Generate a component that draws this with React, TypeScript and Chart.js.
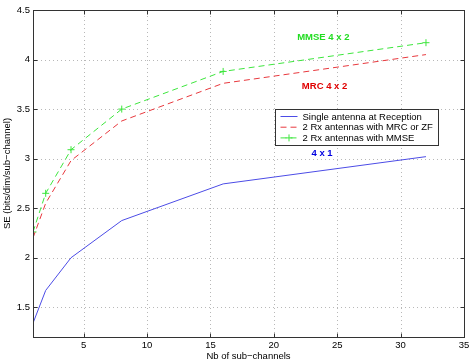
import React, { useEffect, useRef } from "react";
import { Chart, registerables } from "chart.js";

Chart.register(...registerables);

const xValues = [1, 2, 4, 8, 16, 32];
const singleAntenna = [1.34, 1.67, 2.0, 2.375, 2.745, 3.02];
const mrcValues = [2.2, 2.55, 2.98, 3.38, 3.76, 4.05];
const mmseValues = [2.26, 2.65, 3.09, 3.5, 3.88, 4.17];
const xTicks = [5, 10, 15, 20, 25, 30, 35];
const yTicks = [1.5, 2, 2.5, 3, 3.5, 4, 4.5];
const seriesLabels = [
  "Single antenna at Reception",
  "2 Rx antennas with MRC or ZF",
  "2 Rx antennas with MMSE",
];
const annotations = [
  { text: "MMSE 4 x 2", x: 23.9, y: 4.22, color: "#22dd22" },
  { text: "MRC 4 x 2", x: 24.0, y: 3.73, color: "#e00000" },
  { text: "4 x 1", x: 23.8, y: 3.05, color: "#0000e0" },
];

const FONT = "'Liberation Sans', Arial, Helvetica, sans-serif";
const FS = 9.5;
const colors = ["#4c4ce6", "#e8383d", "#3de63d"];

const gridPlugin = {
  id: "dottedGrid",
  beforeDatasetsDraw(chart: any) {
    const { ctx, chartArea: a, scales } = chart;
    ctx.save();
    ctx.strokeStyle = "#b8b8b8";
    ctx.lineWidth = 1;
    ctx.setLineDash([1, 3]);
    ctx.beginPath();
    xTicks.forEach((v) => {
      const px = Math.round(scales.x.getPixelForValue(v)) + 0.5;
      ctx.moveTo(px, a.bottom);
      ctx.lineTo(px, a.top);
    });
    yTicks.forEach((v) => {
      const py = Math.round(scales.y.getPixelForValue(v)) + 0.5;
      ctx.moveTo(a.left, py);
      ctx.lineTo(a.right, py);
    });
    ctx.stroke();
    ctx.restore();
  },
};

const boxPlugin = {
  id: "matlabBox",
  afterDraw(chart: any) {
    const { ctx, chartArea: a, scales } = chart;
    const xs = scales.x, ys = scales.y;
    ctx.save();
    ctx.strokeStyle = "#333";
    ctx.lineWidth = 1;
    ctx.setLineDash([]);
    const L = Math.round(a.left) + 0.5, R = Math.round(a.right) + 0.5;
    const T = Math.round(a.top) + 0.5, B = Math.round(a.bottom) + 0.5;
    ctx.strokeRect(L, T, R - L, B - T);
    const tl = 4;
    ctx.beginPath();
    xTicks.forEach((v) => {
      const px = Math.round(xs.getPixelForValue(v)) + 0.5;
      ctx.moveTo(px, B); ctx.lineTo(px, B - tl);
      ctx.moveTo(px, T); ctx.lineTo(px, T + tl);
    });
    yTicks.forEach((v) => {
      const py = Math.round(ys.getPixelForValue(v)) + 0.5;
      ctx.moveTo(L, py); ctx.lineTo(L + tl, py);
      ctx.moveTo(R, py); ctx.lineTo(R - tl, py);
    });
    ctx.stroke();

    // annotations
    ctx.font = `bold ${FS}px ${FONT}`;
    ctx.textAlign = "center";
    ctx.textBaseline = "middle";
    annotations.forEach((an) => {
      ctx.fillStyle = an.color;
      ctx.fillText(an.text, xs.getPixelForValue(an.x), ys.getPixelForValue(an.y));
    });

    // legend
    const lx = Math.round(xs.getPixelForValue(20.1)) + 0.5;
    const ly = Math.round(ys.getPixelForValue(3.5)) + 0.5;
    const lw = 163, lh = 36;
    ctx.fillStyle = "#fff";
    ctx.fillRect(lx, ly, lw, lh);
    ctx.strokeStyle = "#333";
    ctx.strokeRect(lx, ly, lw, lh);
    ctx.font = `${FS}px ${FONT}`;
    ctx.textAlign = "left";
    chart.data.datasets.forEach((ds: any, i: number) => {
      const cy = ly + 7 + i * 10.7;
      ctx.strokeStyle = ds.borderColor;
      ctx.lineWidth = 1;
      ctx.setLineDash(ds.borderDash || []);
      ctx.beginPath();
      ctx.moveTo(lx + 5, cy);
      ctx.lineTo(lx + 22, cy);
      ctx.stroke();
      ctx.setLineDash([]);
      if (ds.pointRadius > 0) {
        const mx = lx + 13.5;
        ctx.beginPath();
        ctx.moveTo(mx - 3.5, cy); ctx.lineTo(mx + 3.5, cy);
        ctx.moveTo(mx, cy - 3.5); ctx.lineTo(mx, cy + 3.5);
        ctx.stroke();
      }
      ctx.fillStyle = "#000";
      ctx.fillText(ds.label, lx + 27, cy + 0.5);
    });
    ctx.restore();
  },
};

export default function App() {
  const ref = useRef<HTMLCanvasElement>(null);
  useEffect(() => {
    document.body.style.margin = "0";
    const toPts = (ys: number[]) => xValues.map((x, i) => ({ x, y: ys[i] }));
    const chart = new Chart(ref.current as HTMLCanvasElement, {
      type: "line",
      data: {
        datasets: [
          {
            label: seriesLabels[0],
            data: toPts(singleAntenna),
            borderColor: colors[0],
            borderWidth: 1,
            pointRadius: 0,
            fill: false,
          },
          {
            label: seriesLabels[1],
            data: toPts(mrcValues),
            borderColor: colors[1],
            borderWidth: 1,
            borderDash: [6, 4],
            pointRadius: 0,
            fill: false,
          },
          {
            label: seriesLabels[2],
            data: toPts(mmseValues),
            borderColor: colors[2],
            borderWidth: 1,
            borderDash: [6, 4],
            pointStyle: "cross",
            pointRadius: 3.5,
            pointBorderWidth: 1,
            pointBorderColor: colors[2],
            fill: false,
          },
        ],
      } as any,
      options: {
        animation: false,
        responsive: false,
        devicePixelRatio: 1,
        layout: { padding: { top: 10, right: 10, left: 0, bottom: 0 } },
        plugins: { legend: { display: false }, tooltip: { enabled: false } },
        scales: {
          x: {
            type: "linear",
            min: 1,
            max: 35,
            afterBuildTicks: (s: any) => { s.ticks = xTicks.map((v) => ({ value: v })); },
            afterFit: (s: any) => { s.height = 27; },
            ticks: { color: "#000", font: { size: FS, family: FONT }, padding: 3, maxRotation: 0, callback: (v: any) => String(v) },
            grid: { display: false, drawTicks: false },
            border: { display: false },
            title: { display: true, text: "Nb of sub−channels", color: "#000", font: { size: FS, family: FONT }, padding: { top: 0, bottom: 2 } },
          },
          y: {
            type: "linear",
            min: 1.2,
            max: 4.5,
            afterBuildTicks: (s: any) => { s.ticks = yTicks.map((v) => ({ value: v })); },
            afterFit: (s: any) => { s.width = 33; },
            ticks: { color: "#000", font: { size: FS, family: FONT }, padding: 3, callback: (v: any) => String(v) },
            grid: { display: false, drawTicks: false },
            border: { display: false },
            title: { display: true, text: "SE (bits/dim/sub−channel)", color: "#000", font: { size: FS, family: FONT }, padding: { top: 2, bottom: 0 } },
          },
        },
      } as any,
      plugins: [gridPlugin, boxPlugin],
    });
    return () => chart.destroy();
  }, []);
  return (
    <div style={{ position: "absolute", left: 0, top: 0, width: 474, height: 364 }}>
      <canvas ref={ref} width={474} height={364} style={{ width: 474, height: 364 }} />
    </div>
  );
}
